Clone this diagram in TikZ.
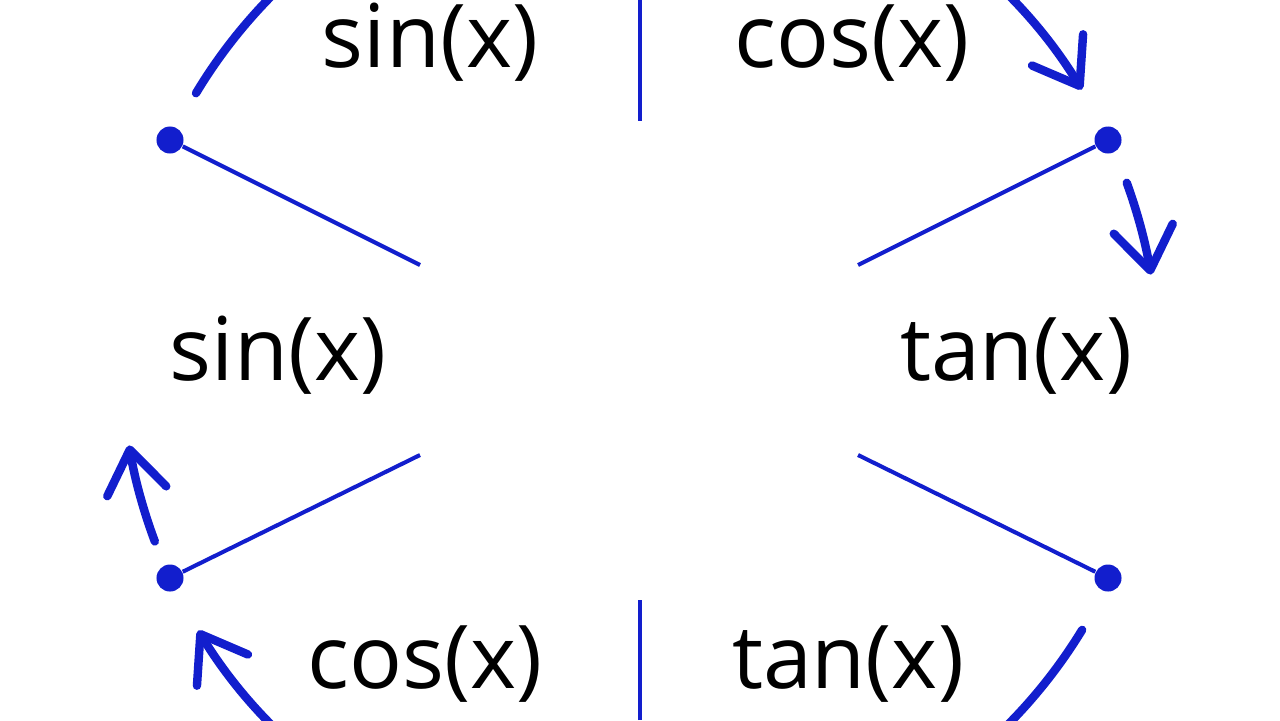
\documentclass[tikz,border=0pt]{standalone}
\usepackage{fontspec}
\setmainfont{Open Sans}
\usepackage{tikz}
\usetikzlibrary{arrows.meta}
\definecolor{ringblue}{RGB}{18,30,205}

\begin{document}
\begin{tikzpicture}[x=0.01cm, y=0.01cm,
  dot/.style={circle, fill=ringblue, inner sep=0pt, minimum size=0.27cm},
  spoke/.style={ringblue, line width=1.15pt},
  rim/.style={ringblue, line width=2.4pt, line cap=round},
  turn/.style={rim, -{Straight Barb[length=12pt, width=17pt, round]}},
  fn/.style={font=\fontsize{25}{30}\selectfont, anchor=base, inner sep=0pt}]
  \useasboundingbox (0,0) rectangle (1280,720);
  \fill[white] (0,0) rectangle (1280,720);
  \clip (0,0) rectangle (1280,720);
  \coordinate (ctr) at (640,360);

  \node[dot] (tl) at (170,580) {};
  \node[dot] (tr) at (1108,580) {};
  \node[dot] (bl) at (170,142) {};
  \node[dot] (br) at (1108,142) {};
  \coordinate (tlin) at (420,455);
  \coordinate (trin) at (858,455);
  \coordinate (blin) at (420,265);
  \coordinate (brin) at (858,265);
  \draw[spoke] (tl) -- (tlin);
  \draw[spoke] (tr) -- (trin);
  \draw[spoke] (bl) -- (blin);
  \draw[spoke] (br) -- (brin);

  \coordinate (vtop) at (640,720);
  \coordinate (vtopend) at (640,599);
  \coordinate (vbot) at (640,0);
  \coordinate (vbotend) at (640,120);
  \draw[spoke] (vtop) -- (vtopend);
  \draw[spoke] (vbot) -- (vbotend);

  \node[fn] (sintop) at (430,653) {sin(x)};
  \node[fn] (costop) at (852,653) {cos(x)};
  \node[fn] (sinleft) at (278,340) {sin(x)};
  \node[fn] (tanright) at (1016,340) {tan(x)};
  \node[fn] (cosbot) at (425,32) {cos(x)};
  \node[fn] (tanbot) at (848,32) {tan(x)};

  \draw[rim] ([shift={(149:518)}]ctr) arc[start angle=149, end angle=105, radius=5.18cm];
  \draw[turn] ([shift={(75:518)}]ctr) arc[start angle=75, end angle=31.5, radius=5.18cm];
  \draw[turn] ([shift={(20:518)}]ctr) arc[start angle=20, end angle=9.5, radius=5.18cm];
  \draw[turn] ([shift={(200.5:518)}]ctr) arc[start angle=200.5, end angle=189.5, radius=5.18cm];
  \draw[turn] ([shift={(255:518)}]ctr) arc[start angle=255, end angle=211.5, radius=5.18cm];
  \draw[rim] ([shift={(-31.4:518)}]ctr) arc[start angle=-31.4, end angle=-75, radius=5.18cm];
\end{tikzpicture}
\end{document}
